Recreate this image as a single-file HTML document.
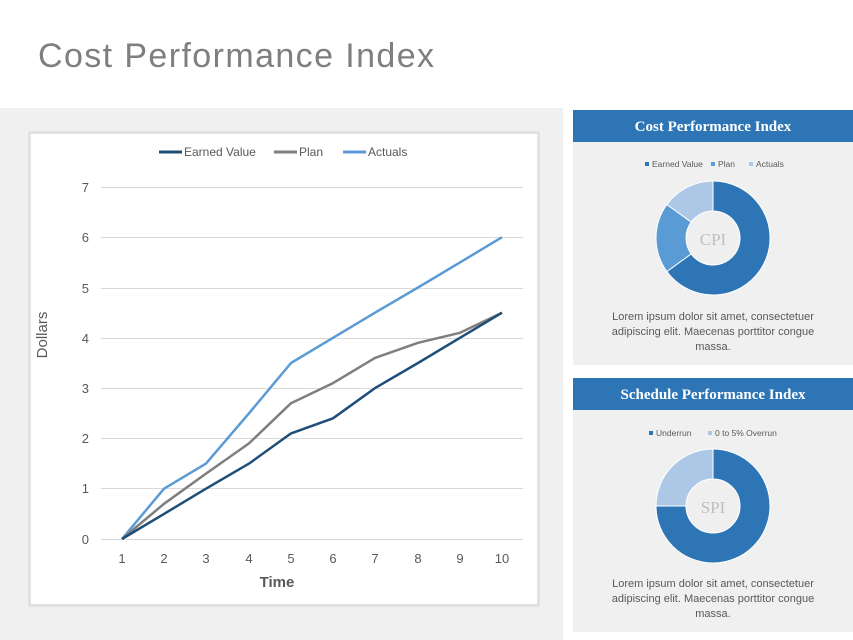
<!DOCTYPE html><html><head><style>
body{margin:0;width:853px;height:640px;background:#fff;font-family:"Liberation Sans",sans-serif;position:relative;overflow:hidden}
.t{position:absolute;left:38px;top:37px;font-size:34px;letter-spacing:1.4px;color:#7f7f7f}
</style></head><body>
<div class="t">Cost Performance Index</div>
<svg width="853" height="640" style="position:absolute;left:0;top:0" font-family="Liberation Sans, sans-serif">
<rect x="0" y="108" width="563" height="532" fill="#f0f0f0"/>
<rect x="28" y="131" width="512" height="476" fill="#e2e2e2"/>
<rect x="31" y="134" width="506" height="470" fill="#fff"/>
<g stroke="#d9d9d9" stroke-width="1">
<line x1="101" x2="523" y1="187.5" y2="187.5"/><line x1="101" x2="523" y1="237.5" y2="237.5"/><line x1="101" x2="523" y1="288.5" y2="288.5"/><line x1="101" x2="523" y1="338.5" y2="338.5"/><line x1="101" x2="523" y1="388.5" y2="388.5"/><line x1="101" x2="523" y1="438.5" y2="438.5"/><line x1="101" x2="523" y1="488.5" y2="488.5"/><line x1="101" x2="523" y1="539.5" y2="539.5"/>
</g>
<g font-size="13" fill="#595959" text-anchor="end">
<text x="89" y="192">7</text><text x="89" y="242">6</text><text x="89" y="293">5</text><text x="89" y="343">4</text><text x="89" y="393">3</text><text x="89" y="443">2</text><text x="89" y="493">1</text><text x="89" y="544">0</text></g>
<g font-size="13" fill="#595959" text-anchor="middle">
<text x="122" y="563">1</text><text x="164" y="563">2</text><text x="206" y="563">3</text><text x="249" y="563">4</text><text x="291" y="563">5</text><text x="333" y="563">6</text><text x="375" y="563">7</text><text x="418" y="563">8</text><text x="460" y="563">9</text><text x="502" y="563">10</text></g>
<text x="277" y="587" font-size="15" font-weight="bold" fill="#595959" text-anchor="middle">Time</text>
<text x="47" y="335" font-size="15" fill="#595959" text-anchor="middle" transform="rotate(-90 47 335)">Dollars</text>
<g fill="none" stroke-width="2.5" stroke-linejoin="round">
<polyline stroke="#5b9bd5" points="122,539 164,488.7 206,463.6 249,413.3 291,363 333,337.8 375,312.7 418,287.5 460,262.4 502,237.2"/>
<polyline stroke="#7f7f7f" points="122,539 164,503.8 206,473.6 249,443.4 291,403.2 333,383.1 375,357.9 418,342.8 460,332.8 502,312.7"/>
<polyline stroke="#1f4e79" points="122,539 164,513.9 206,488.7 249,463.6 291,433.4 333,418.3 375,388.1 418,363 460,337.8 502,312.7"/>
</g>
<g font-size="12" fill="#595959">
<line x1="159" x2="182" y1="152" y2="152" stroke="#1f4e79" stroke-width="3"/><text x="184" y="156">Earned Value</text>
<line x1="274" x2="297" y1="152" y2="152" stroke="#7f7f7f" stroke-width="3"/><text x="299" y="156">Plan</text>
<line x1="343" x2="366" y1="152" y2="152" stroke="#5b9bd5" stroke-width="3"/><text x="368" y="156">Actuals</text>
</g>
<rect x="573" y="142" width="280" height="223" fill="#f0f0f0"/>
<rect x="573" y="110" width="280" height="32" fill="#2e75b6"/>
<text x="713" y="131" font-family="Liberation Serif, serif" font-weight="bold" font-size="15" fill="#fff" text-anchor="middle">Cost Performance Index</text>
<g font-size="8.5" fill="#595959"><rect x="645" y="162" width="4" height="4" fill="#2e75b6"/><text x="652" y="167">Earned Value</text><rect x="711" y="162" width="4" height="4" fill="#5b9bd5"/><text x="718" y="167">Plan</text><rect x="749" y="162" width="4" height="4" fill="#adc8e6"/><text x="756" y="167">Actuals</text></g>
<g stroke="#fff" stroke-width="1">
<path d="M713,181 A57,57 0 1 1 666.9,271.5 L691.2,253.9 A27,27 0 1 0 713,211 Z" fill="#2e75b6"/>
<path d="M666.9,271.5 A57,57 0 0 1 666.9,204.5 L691.2,222.1 A27,27 0 0 0 691.2,253.9 Z" fill="#5b9bd5"/>
<path d="M666.9,204.5 A57,57 0 0 1 713,181 L713,211 A27,27 0 0 0 691.2,222.1 Z" fill="#adc8e6"/>
</g>
<circle cx="713" cy="238" r="26" fill="#efefef"/>
<text x="713" y="245" font-family="Liberation Serif, serif" font-size="17" fill="#bfbfbf" text-anchor="middle">CPI</text>
<g font-size="11" fill="#595959" text-anchor="middle"><text x="713" y="320">Lorem ipsum  dolor sit amet, consectetuer</text><text x="713" y="335">adipiscing elit. Maecenas porttitor congue</text><text x="713" y="350">massa.</text></g>
<rect x="573" y="410" width="280" height="222" fill="#f0f0f0"/>
<rect x="573" y="378" width="280" height="32" fill="#2e75b6"/>
<text x="713" y="399" font-family="Liberation Serif, serif" font-weight="bold" font-size="15" fill="#fff" text-anchor="middle">Schedule Performance Index</text>
<g font-size="8.5" fill="#595959"><rect x="649" y="431" width="4" height="4" fill="#2e75b6"/><text x="656" y="436">Underrun</text><rect x="708" y="431" width="4" height="4" fill="#adc8e6"/><text x="715" y="436">0 to 5% Overrun</text></g>
<g stroke="#fff" stroke-width="1">
<path d="M713,449 A57,57 0 1 1 656,506 L686,506 A27,27 0 1 0 713,479 Z" fill="#2e75b6"/>
<path d="M656,506 A57,57 0 0 1 713,449 L713,479 A27,27 0 0 0 686,506 Z" fill="#adc8e6"/>
</g>
<circle cx="713" cy="506" r="26" fill="#efefef"/>
<text x="713" y="513" font-family="Liberation Serif, serif" font-size="17" fill="#bfbfbf" text-anchor="middle">SPI</text>
<g font-size="11" fill="#595959" text-anchor="middle"><text x="713" y="587">Lorem ipsum  dolor sit amet, consectetuer</text><text x="713" y="602">adipiscing elit. Maecenas porttitor congue</text><text x="713" y="617">massa.</text></g>
</svg>
</body></html>
